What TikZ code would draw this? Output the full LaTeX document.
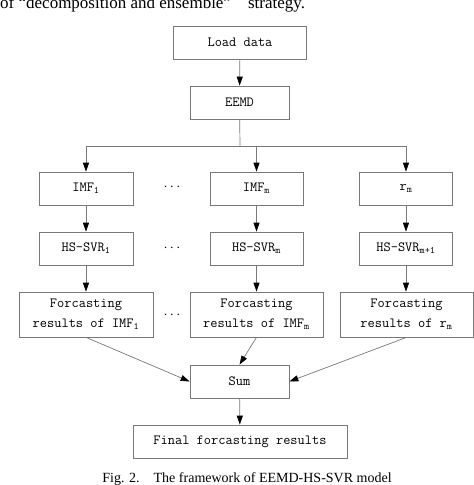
\documentclass[tikz,border=0pt]{standalone}
\usepackage{fontspec}
\setmainfont{Liberation Serif}
\usepackage{tikz}
\usetikzlibrary{arrows.meta}
\definecolor{linegray}{RGB}{120,120,120}

\begin{document}
\begin{tikzpicture}[x=1pt,y=-1pt,
  box/.style={draw=linegray,line width=0.7pt,inner sep=0pt,minimum height=33pt,align=center,font=\fontsize{14}{20}\selectfont\ttfamily},
  flow/.style={draw=linegray,line width=0.7pt,-{Triangle[length=9pt,width=6pt,color=black,fill=black]}},
  dotsnode/.style={inner sep=0pt,font=\fontsize{14}{16}\selectfont}]
  \useasboundingbox (0,0) rectangle (474,485);
  %top
  \node[anchor=base west,inner sep=0pt,font=\fontsize{17}{20}\selectfont] (prev) at (0,8.5) {of ``decomposition and ensemble''\quad strategy.};
  \node[box,minimum width=133pt] (load) at (240,42.5) {Load data};
  \node[box,minimum width=99pt] (eemd) at (239.5,102.5) {EEMD};
  \coordinate (split) at (240,146);

  %components
  \node[box,minimum width=94pt] (imf1) at (86,188.5) {IMF\textsubscript{1}};
  \node[box,minimum width=93pt] (imfm) at (256.5,188.5) {IMF\textsubscript{m}};
  \node[box,minimum width=93pt] (rm) at (406,188.5) {r\textsubscript{m}};
  \node[box,minimum width=94pt] (svr1) at (86,248.5) {HS-SVR\textsubscript{1}};
  \node[box,minimum width=93pt] (svrm) at (256.5,248.5) {HS-SVR\textsubscript{m}};
  \node[box,minimum width=93pt] (svrr) at (406,248.5) {HS-SVR\textsubscript{m+1}};
  \node[box,minimum width=134pt,minimum height=45pt] (fore1) at (86,314.5) {Forcasting\\results of IMF\textsubscript{1}};
  \node[box,minimum width=133pt,minimum height=45pt] (forem) at (256.5,314.5) {Forcasting\\results of IMF\textsubscript{m}};
  \node[box,minimum width=133pt,minimum height=45pt] (forer) at (406.5,314.5) {Forcasting\\results of r\textsubscript{m}};
  \node[dotsnode] (dots1) at (172,187) {$\cdots$};
  \node[dotsnode] (dots2) at (172,248) {$\cdots$};
  \node[dotsnode] (dots3) at (172,315) {$\cdots$};

  %bottom
  \node[box,minimum width=99pt] (sum) at (239.5,381.5) {Sum};
  \node[box,minimum width=214pt] (final) at (240,441.5) {Final forcasting results};
  \node[anchor=base,inner sep=0pt,font=\fontsize{14}{16}\selectfont] (caption) at (247,482) {Fig. 2.\quad The framework of EEMD-HS-SVR model};

  %connectors
  \draw[flow] (load) -- (eemd);
  \draw[draw=linegray,line width=0.7pt] (eemd) -- (split);
  \draw[draw=linegray,line width=0.7pt] (split -| imf1) -- (split -| rm);
  \draw[flow] (split -| imf1) -- (imf1);
  \draw[flow] (split -| imfm) -- (imfm);
  \draw[flow] (split -| rm) -- (rm);
  \draw[flow] (imf1) -- (svr1);
  \draw[flow] (imfm) -- (svrm);
  \draw[flow] (rm) -- (svrr);
  \draw[flow] (svr1) -- (fore1.north -| svr1);
  \draw[flow] (svrm) -- (forem.north -| svrm);
  \draw[flow] (svrr) -- (forer.north -| svrr);
  \draw[flow] (fore1.south) -- (sum.west);
  \draw[flow] (forem.south) -- (sum.north);
  \draw[flow] (forer.south) -- (sum.east);
  \draw[flow] (sum) -- (final);
\end{tikzpicture}
\end{document}
